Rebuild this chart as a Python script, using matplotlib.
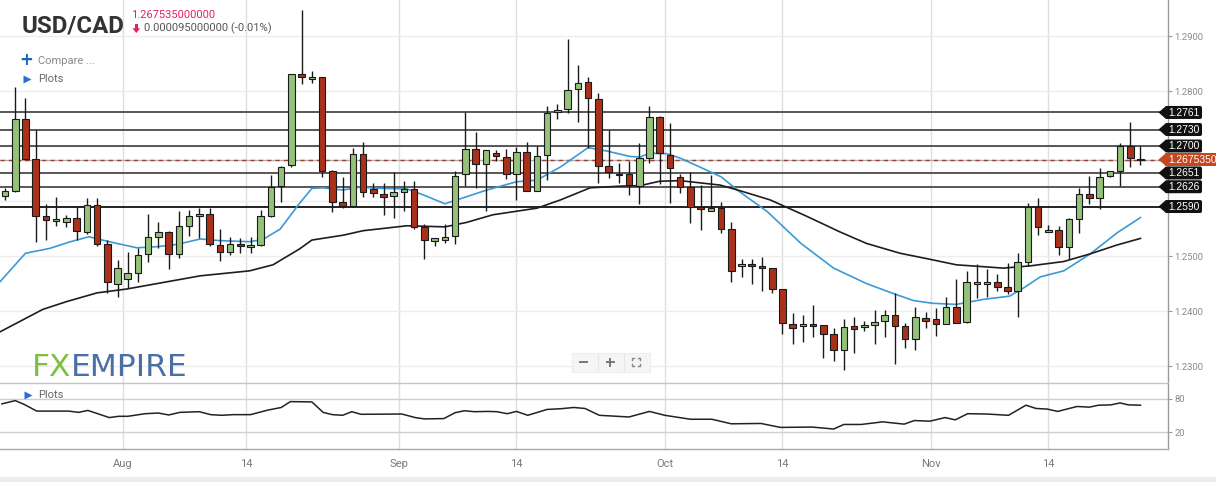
import matplotlib
matplotlib.use("Agg")
import matplotlib.pyplot as plt
from matplotlib import font_manager
from matplotlib.patches import Rectangle, Polygon, FancyBboxPatch
import numpy as np


def pick_font(names, default="DejaVu Sans"):
    for n in names:
        try:
            font_manager.findfont(font_manager.FontProperties(family=n),
                                  fallback_to_default=False)
            return n
        except Exception:
            pass
    return default


UI = pick_font(["Roboto", "Lato", "DejaVu Sans"])
TAGF = pick_font(["Liberation Sans", "Roboto", "DejaVu Sans"])
plt.rcParams["font.family"] = [UI, "DejaVu Sans"]

# ---------------- data (daily candles, Jul 18 - Nov 24) ----------------
opens = [1.2610, 1.2619, 1.2749, 1.2676, 1.2573, 1.2563, 1.2561, 1.2569, 1.2544, 1.2592,
         1.2521, 1.2450, 1.2458, 1.2469, 1.2503, 1.2534, 1.2544, 1.2503, 1.2555, 1.2572,
         1.2576, 1.2520, 1.2508, 1.2522, 1.2516, 1.2520, 1.2573, 1.2628, 1.2666, 1.2831,
         1.2821, 1.2825, 1.2655, 1.2598, 1.2591, 1.2685, 1.2622, 1.2612, 1.2610, 1.2617,
         1.2621, 1.2553, 1.2528, 1.2530, 1.2536, 1.2649, 1.2694, 1.2667, 1.2687, 1.2680,
         1.2650, 1.2690, 1.2619, 1.2684, 1.2762, 1.2767, 1.2803, 1.2816, 1.2785, 1.2664,
         1.2647, 1.2650, 1.2627, 1.2678, 1.2753, 1.2684, 1.2644, 1.2626, 1.2590, 1.2582,
         1.2587, 1.2549, 1.2482, 1.2485, 1.2482, 1.2478, 1.2440, 1.2376, 1.2373, 1.2376,
         1.2375, 1.2358, 1.2329, 1.2372, 1.2371, 1.2375, 1.2381, 1.2393, 1.2373, 1.2350,
         1.2387, 1.2385, 1.2376, 1.2408, 1.2380, 1.2450, 1.2449, 1.2452, 1.2443, 1.2437,
         1.2489, 1.2589, 1.2543, 1.2547, 1.2516, 1.2567, 1.2612, 1.2605, 1.2645, 1.2655,
         1.2700, 1.2677]
highs = [1.2624, 1.2808, 1.2787, 1.2730, 1.2595, 1.2607, 1.2575, 1.2591, 1.2605, 1.2605,
         1.2530, 1.2493, 1.2508, 1.2514, 1.2576, 1.2562, 1.2545, 1.2582, 1.2584, 1.2588,
         1.2588, 1.2549, 1.2534, 1.2532, 1.2534, 1.2584, 1.2647, 1.2663, 1.2831, 1.2947,
         1.2837, 1.2826, 1.2656, 1.2643, 1.2696, 1.2708, 1.2633, 1.2633, 1.2653, 1.2637,
         1.2637, 1.2558, 1.2532, 1.2558, 1.2655, 1.2761, 1.2726, 1.2692, 1.2692, 1.2694,
         1.2698, 1.2708, 1.2700, 1.2773, 1.2776, 1.2894, 1.2847, 1.2825, 1.2796, 1.2730,
         1.2670, 1.2672, 1.2706, 1.2773, 1.2754, 1.2742, 1.2649, 1.2653, 1.2629, 1.2647,
         1.2599, 1.2562, 1.2494, 1.2494, 1.2499, 1.2478, 1.2440, 1.2397, 1.2392, 1.2411,
         1.2375, 1.2369, 1.2385, 1.2390, 1.2382, 1.2401, 1.2401, 1.2433, 1.2379, 1.2408,
         1.2399, 1.2405, 1.2425, 1.2458, 1.2472, 1.2485, 1.2476, 1.2467, 1.2487, 1.2505,
         1.2596, 1.2605, 1.2556, 1.2555, 1.2570, 1.2623, 1.2645, 1.2660, 1.2655, 1.2705,
         1.2743, 1.2700]
lows = [1.2602, 1.2617, 1.2675, 1.2526, 1.2530, 1.2555, 1.2553, 1.2529, 1.2540, 1.2519,
        1.2432, 1.2425, 1.2441, 1.2453, 1.2490, 1.2514, 1.2476, 1.2496, 1.2537, 1.2532,
        1.2519, 1.2491, 1.2502, 1.2505, 1.2505, 1.2519, 1.2571, 1.2599, 1.2662, 1.2813,
        1.2815, 1.2644, 1.2580, 1.2587, 1.2590, 1.2608, 1.2608, 1.2575, 1.2570, 1.2582,
        1.2549, 1.2495, 1.2518, 1.2524, 1.2521, 1.2627, 1.2623, 1.2582, 1.2673, 1.2640,
        1.2602, 1.2618, 1.2618, 1.2638, 1.2750, 1.2760, 1.2744, 1.2696, 1.2633, 1.2641,
        1.2633, 1.2611, 1.2595, 1.2669, 1.2631, 1.2597, 1.2614, 1.2560, 1.2547, 1.2582,
        1.2541, 1.2453, 1.2461, 1.2449, 1.2437, 1.2432, 1.2358, 1.2340, 1.2344, 1.2353,
        1.2314, 1.2310, 1.2292, 1.2323, 1.2364, 1.2340, 1.2352, 1.2304, 1.2332, 1.2330,
        1.2370, 1.2355, 1.2376, 1.2379, 1.2379, 1.2423, 1.2426, 1.2437, 1.2431, 1.2389,
        1.2482, 1.2538, 1.2543, 1.2502, 1.2494, 1.2541, 1.2595, 1.2585, 1.2643, 1.2627,
        1.2661, 1.2666]
closes = [1.2618, 1.2749, 1.2676, 1.2573, 1.2565, 1.2567, 1.2569, 1.2545, 1.2592, 1.2521,
          1.2452, 1.2478, 1.2469, 1.2502, 1.2534, 1.2544, 1.2503, 1.2555, 1.2573, 1.2576,
          1.2521, 1.2508, 1.2522, 1.2518, 1.2520, 1.2573, 1.2626, 1.2662, 1.2831, 1.2825,
          1.2825, 1.2655, 1.2598, 1.2591, 1.2685, 1.2616, 1.2614, 1.2608, 1.2616, 1.2621,
          1.2553, 1.2529, 1.2532, 1.2534, 1.2646, 1.2694, 1.2667, 1.2692, 1.2681, 1.2650,
          1.2690, 1.2619, 1.2682, 1.2760, 1.2765, 1.2802, 1.2815, 1.2787, 1.2664, 1.2652,
          1.2650, 1.2629, 1.2678, 1.2753, 1.2687, 1.2660, 1.2626, 1.2590, 1.2585, 1.2587,
          1.2549, 1.2473, 1.2485, 1.2481, 1.2478, 1.2440, 1.2378, 1.2370, 1.2376, 1.2373,
          1.2358, 1.2329, 1.2371, 1.2367, 1.2375, 1.2380, 1.2393, 1.2373, 1.2350, 1.2389,
          1.2382, 1.2376, 1.2408, 1.2379, 1.2453, 1.2453, 1.2452, 1.2444, 1.2437, 1.2489,
          1.2589, 1.2552, 1.2547, 1.2516, 1.2567, 1.2612, 1.2605, 1.2643, 1.2655, 1.2700,
          1.2678, 1.267535]

# fast moving average (blue), read at candle positions
ma_fast_x = [-0.5, 2.0, 4.4, 6.4, 8.2, 9.3, 10.9, 12.9, 14.9, 16.8, 19.1, 21.0, 23.9, 25.2,
             26.9, 28.8, 30.0, 31.1, 33.0, 34.7, 36.7, 39.3, 40.9, 43.0, 44.5, 47.1, 50.0,
             52.0, 54.3, 57.0, 58.8, 61.1, 62.1, 63.0, 64.7, 66.0, 67.9, 70.0, 71.8, 74.5,
             77.8, 81.0, 84.2, 86.8, 88.8, 90.7, 93.0, 95.6, 98.2, 99.5, 101.2, 103.5, 106.1,
             108.7, 111.0]
ma_fast = [1.2453, 1.2505, 1.2514, 1.2526, 1.2535, 1.2530, 1.2523, 1.2515, 1.2517, 1.2521,
           1.2531, 1.2528, 1.2526, 1.2530, 1.2549, 1.2596, 1.2623, 1.2624, 1.2620, 1.2625,
           1.2623, 1.2622, 1.2611, 1.2595, 1.2604, 1.2620, 1.2635, 1.2638, 1.2662, 1.2697,
           1.2691, 1.2681, 1.2680, 1.2687, 1.2686, 1.2678, 1.2662, 1.2644, 1.2617, 1.2581,
           1.2523, 1.2478, 1.2450, 1.2432, 1.2419, 1.2414, 1.2412, 1.2421, 1.2427, 1.2441,
           1.2462, 1.2473, 1.2504, 1.2542, 1.2570]
# slow moving average (black)
ma_slow_x = [-0.5, 3.7, 6.0, 9.0, 11.9, 15.8, 19.1, 23.9, 26.2, 28.8, 30.0, 33.1, 35.0, 39.3,
             43.0, 45.1, 47.7, 52.0, 54.3, 57.2, 60.1, 62.1, 64.0, 66.0, 69.9, 71.8, 74.8,
             78.4, 81.6, 84.2, 87.5, 90.7, 93.0, 97.6, 100.2, 103.5, 106.1, 108.7, 111.0]
ma_slow = [1.2362, 1.2403, 1.2417, 1.2433, 1.2440, 1.2453, 1.2464, 1.2473, 1.2484, 1.2513,
           1.2529, 1.2538, 1.2546, 1.2555, 1.2553, 1.2561, 1.2575, 1.2587, 1.2602, 1.2624,
           1.2627, 1.2628, 1.2636, 1.2637, 1.2629, 1.2619, 1.2602, 1.2572, 1.2544, 1.2523,
           1.2505, 1.2493, 1.2484, 1.2478, 1.2482, 1.2490, 1.2504, 1.2520, 1.2532]

# oscillator panel
osc_x = [-0.3, 1.0, 1.9, 3.1, 6.2, 7.2, 8.1, 10.2, 11.1, 12.0, 13.7, 15.0, 16.0, 17.1, 19.0,
         20.1, 21.2, 22.3, 24.0, 25.7, 27.0, 27.9, 30.0, 31.1, 32.0, 33.0, 33.9, 34.8, 38.8,
         40.1, 41.0, 42.9, 44.0, 44.9, 45.9, 47.2, 48.1, 49.1, 50.0, 51.1, 53.0, 54.3, 55.6,
         56.7, 58.1, 61.0, 63.0, 64.5, 67.0, 69.1, 71.0, 73.9, 75.8, 78.9, 81.0, 82.0, 83.7,
         85.8, 87.9, 88.9, 90.4, 91.9, 92.9, 94.1, 96.0, 98.1, 99.8, 100.8, 101.9, 102.9,
         104.8, 106.0, 106.9, 108.1, 109.0, 109.8, 111.0]
osc_v = [71.2, 77.1, 70.0, 58.2, 58.2, 55.9, 59.4, 46.5, 48.8, 48.8, 53.5, 54.7, 51.2, 55.9,
         57.1, 51.8, 50.6, 51.8, 51.8, 60.0, 64.7, 75.3, 74.7, 55.9, 51.8, 50.6, 57.1, 52.4,
         52.9, 46.5, 44.1, 44.7, 55.3, 58.8, 57.1, 57.6, 57.1, 53.5, 57.6, 50.6, 61.2, 62.4,
         64.7, 62.9, 50.6, 47.6, 57.6, 50.6, 43.5, 43.5, 35.3, 35.9, 28.8, 29.4, 25.9, 34.1,
         34.1, 38.8, 34.7, 41.2, 40.0, 46.5, 42.4, 53.5, 52.9, 50.6, 68.8, 62.9, 61.8, 57.6,
         66.5, 65.3, 68.8, 69.4, 72.9, 69.4, 68.8]

levels = [1.2761, 1.2730, 1.2700, 1.2651, 1.2626, 1.2590]
last_price = 1.267535
price_ticks = [1.23, 1.24, 1.25, 1.26, 1.27, 1.28, 1.29]
# 1.2600 and 1.2700 labels sit under the level tags, so they are not shown
price_labels = ["1.2300", "1.2400", "1.2500", "", "", "1.2800", "1.2900"]
osc_ticks = [20, 80]
osc_labels = ["20", "80"]
date_labels = ["Aug", "14", "Sep", "14", "Oct", "14", "Nov", "14"]
date_pos = [11.55, 23.6, 38.55, 50.0, 64.5, 75.95, 90.55, 101.95]

# ---------------- figure ----------------
W, H = 1216, 482
fig = plt.figure(figsize=(W / 100, H / 100), dpi=100)
fig.patch.set_facecolor("white")
AX_R = 1167.7
ax = fig.add_axes([0, 1 - 383 / H, AX_R / W, 383 / H])
ind = fig.add_axes([0, 1 - 449 / H, AX_R / W, 66 / H])
XMIN, XMAX = -0.49, 113.66
for a in (ax, ind):
    a.set_xlim(XMIN, XMAX)
    for s in a.spines.values():
        s.set_visible(False)
    a.set_facecolor("none")
ax.set_ylim(1.22691, 1.29655)
ind.set_ylim(-10.1, 108.8)

GRID_V = "#dedede"
for p in date_pos:
    ax.axvline(p, color=GRID_V, lw=1, zorder=0)
    ind.axvline(p, color=GRID_V, lw=1, zorder=0)
for t in price_ticks:
    ax.axhline(t, color="#ededed", lw=1, zorder=0)
for t in osc_ticks:
    ind.axhline(t, color="#cfcfcf", lw=1, zorder=0)

# levels and current price line
for lv in levels:
    ax.axhline(lv, color="#111111" if lv == levels[-1] else "#4a4a4a", lw=1.3, zorder=1)
ax.axhline(last_price, color="#b0b0b0", lw=1, zorder=1)
ax.axhline(last_price, color="#9c3f2c", lw=1, ls=(0, (3, 3)), zorder=1)

# moving averages
ax.plot(ma_fast_x, ma_fast, color="#3b9ad6", lw=1.2, zorder=2)
ax.plot(ma_slow_x, ma_slow, color="#1e1e1e", lw=1.2, zorder=2)

# candles
GREEN, RED = "#94c27a", "#a9311a"
for i, (o, h, l, c) in enumerate(zip(opens, highs, lows, closes)):
    up = c >= o
    ax.vlines(i, l, h, color="#1a1a1a", lw=1, zorder=3)
    ax.add_patch(Rectangle((i - 0.32, min(o, c)), 0.64, max(abs(c - o), 0.00004),
                           facecolor=GREEN if up else RED, edgecolor="#1a1a1a",
                           lw=0.8, zorder=4))

# oscillator
ind.plot(osc_x, osc_v, color="#222222", lw=1.1, zorder=3)

# axes ticks
ax.yaxis.tick_right()
ax.set_yticks(price_ticks)
ax.set_yticklabels(price_labels)
ax.tick_params(axis="y", length=3, width=0.8, color="#999999", labelcolor="#8a8a8a",
               labelsize=6.8, pad=2)
ax.tick_params(axis="x", bottom=False, labelbottom=False)
ind.yaxis.tick_right()
ind.set_yticks(osc_ticks)
ind.set_yticklabels(osc_labels)
ind.tick_params(axis="y", length=3, width=0.8, color="#999999", labelcolor="#8a8a8a",
                labelsize=6.8, pad=2)
ind.set_xticks(date_pos)
ind.set_xticklabels(date_labels)
ind.tick_params(axis="x", length=0, pad=7, labelsize=8, labelcolor="#7a7a7a")

# ---------------- overlay (pixel coordinates) ----------------
ov = fig.add_axes([0, 0, 1, 1])
ov.set_xlim(0, W)
ov.set_ylim(H, 0)
ov.axis("off")
ov.set_zorder(5)
ov.patch.set_alpha(0)

# frame lines
ov.plot([AX_R, AX_R], [0, 449], color="#9a9a9a", lw=1)
ov.plot([0, AX_R], [383.3, 383.3], color="#c4c4c4", lw=1)
ov.plot([0, AX_R], [449, 449], color="#a8a8a8", lw=1)
ov.add_patch(Rectangle((0, 477), W, 6, facecolor="#ececec", edgecolor="none"))


def py(p):
    return H - ax.transData.transform((0, p))[1]


# price tags
for lv in levels:
    y = py(lv)
    ov.add_patch(FancyBboxPatch((1165, y - 6.5), 37, 13,
                                boxstyle="round,pad=0,rounding_size=2",
                                fc="#111111", ec="none", zorder=6))
    ov.add_patch(Polygon([(1158.5, y), (1166, y - 6.5), (1166, y + 6.5)],
                         closed=True, fc="#111111", ec="none", zorder=6))
    ov.text(1184, y + 0.3, f"{lv:.4f}", color="white", fontsize=7.4, family=TAGF,
            ha="center", va="center", zorder=7)
y = py(last_price)
ov.add_patch(Rectangle((1165, y - 6.5), 60, 13, fc="#c8461f", ec="none", zorder=6))
ov.add_patch(Polygon([(1158.5, y), (1166, y - 6.5), (1166, y + 6.5)],
                     closed=True, fc="#c8461f", ec="none", zorder=6))
ov.text(1168.5, y + 0.3, "1.2675350", color="white", fontsize=7.4, family=TAGF,
        ha="left", va="center", zorder=7)

# title block
ov.text(22, 32, "USD/CAD", fontsize=17.3, fontweight="bold",
        color="#333333", ha="left", va="baseline")
ov.text(131, 15.5, "1.267535000000", fontsize=8, color="#e2245a", ha="left", va="center")
ov.add_patch(Rectangle((134.6, 24), 3, 4.6, fc="#e2245a", ec="none"))
ov.add_patch(Polygon([(132.4, 28.3), (140.2, 28.3), (136.3, 33)], closed=True,
                     fc="#e2245a", ec="none"))
ov.text(144, 28.5, "0.000095000000 (-0.01%)", fontsize=8, color="#555555",
        ha="left", va="center")

ov.text(26, 60, "+", fontsize=12, fontweight="bold", color="#1f5fbf",
        ha="center", va="center", family="DejaVu Sans")
ov.text(38, 60.5, "Compare ...", fontsize=8, color="#8a8a8a", ha="left", va="center")
ov.plot([27], [79], marker=">", ms=5.5, color="#2a6dd8", mec="none")
ov.text(38, 79.5, "Plots", fontsize=8, color="#666666", ha="left", va="center")
ov.plot([27.5], [395], marker=">", ms=5.5, color="#2a6dd8", mec="none")
ov.text(38, 395, "Plots", fontsize=8, color="#666666", ha="left", va="center")

# logo
ov.text(71, 376.5, "FX", fontsize=22.5, color="#7cbf42", ha="right", va="baseline",
        family="DejaVu Sans")
ov.text(71, 376.5, "EMPIRE", fontsize=22.5, color="#4c6ea6", ha="left", va="baseline",
        family="DejaVu Sans")

# zoom buttons
ov.add_patch(Rectangle((571.5, 352.5), 78, 19, fc="#f5f5f5", ec="#ededed", lw=0.8))
ov.plot([597.5, 597.5], [354, 370], color="#e6e6e6", lw=0.8)
ov.plot([623.5, 623.5], [354, 370], color="#e6e6e6", lw=0.8)
ov.plot([580, 587], [362, 362], color="#777777", lw=1.4)
ov.plot([606.5, 613.5], [362, 362], color="#777777", lw=1.4)
ov.plot([610, 610], [358.5, 365.5], color="#777777", lw=1.4)
cx, cy, s, k = 636, 362, 4, 2.2
for sx in (-1, 1):
    for sy in (-1, 1):
        ov.plot([cx + sx * s, cx + sx * s, cx + sx * (s - k)],
                [cy + sy * (s - k), cy + sy * s, cy + sy * s],
                color="#888888", lw=1)

fig.savefig("out.png", dpi=100, facecolor="white")
